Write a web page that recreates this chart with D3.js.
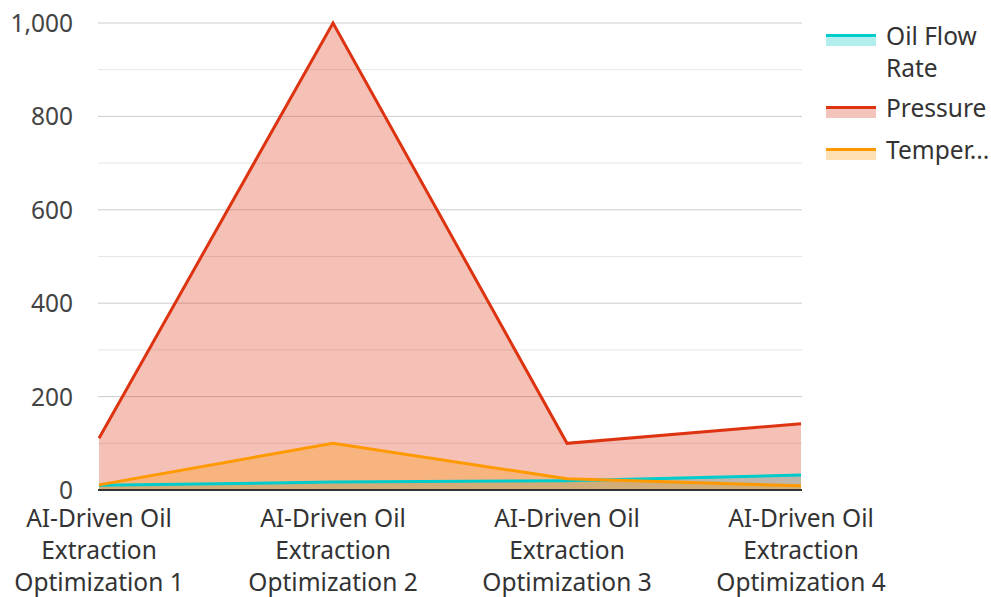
<!DOCTYPE html>
<html><head><meta charset="utf-8">
<script src="https://cdn.jsdelivr.net/npm/d3@7"></script>
<style>body{margin:0;background:#fff}svg{display:block}</style>
</head><body>
<svg id="c" width="991" height="597"></svg>
<script>
const categories = ["AI-Driven Oil Extraction Optimization 1","AI-Driven Oil Extraction Optimization 2","AI-Driven Oil Extraction Optimization 3","AI-Driven Oil Extraction Optimization 4"];
const categoryLines = [["AI-Driven Oil","Extraction","Optimization 1"],["AI-Driven Oil","Extraction","Optimization 2"],["AI-Driven Oil","Extraction","Optimization 3"],["AI-Driven Oil","Extraction","Optimization 4"]];
const oilFlowRate = [10, 17, 20, 32];
const pressure = [111, 1000, 100, 142];
const temperature = [11, 100, 24, 9];
const seriesNames = ["Oil Flow Rate","Pressure","Temperature"];
const seriesColors = ["#00CCCC","#DD3311","#FF9900"];
const seriesFills = ["#B2EEEE","#F2C4BB","#FFE0B2"];
const yTicks = [0,200,400,600,800,1000];
const yMinor = [100,300,500,700,900];

const svg = d3.select("#c");
const font = "'Noto Sans', 'Open Sans', sans-serif";
const fs = 24.5;
const x = d3.scalePoint().domain(categories).range([99, 801]);
const y = d3.scaleLinear().domain([0,1000]).range([490, 23]);

// grid
svg.append("g").selectAll("line").data(yMinor).join("line")
  .attr("x1",98).attr("x2",802).attr("y1",d=>y(d)).attr("y2",d=>y(d))
  .attr("stroke","#e6e6e6").attr("stroke-width",1);
svg.append("g").selectAll("line").data(yTicks.filter(d=>d>0)).join("line")
  .attr("x1",98).attr("x2",802).attr("y1",d=>y(d)).attr("y2",d=>y(d))
  .attr("stroke","#cccccc").attr("stroke-width",1);

const all = [oilFlowRate, pressure, temperature];
const area = d3.area().x((d,i)=>x(categories[i])).y0(y(0)).y1(d=>y(d));
const line = d3.line().x((d,i)=>x(categories[i])).y(d=>y(d));
all.forEach((s,k)=>{
  svg.append("path").attr("d",area(s)).attr("fill",seriesColors[k]).attr("fill-opacity",0.3);
});
all.forEach((s,k)=>{
  svg.append("path").attr("d",line(s)).attr("fill","none").attr("stroke",seriesColors[k]).attr("stroke-width",3).attr("stroke-linejoin","miter");
});

// baseline
svg.append("line").attr("x1",98).attr("x2",802).attr("y1",y(0)).attr("y2",y(0)).attr("stroke","#333").attr("stroke-width",2);

// y axis labels
const yAxis = d3.axisLeft(y).tickValues(yTicks).tickFormat(d3.format(",")).tickSize(0).tickPadding(0);
const ya = svg.append("g").attr("transform","translate(73,0)").call(yAxis);
ya.select(".domain").remove();
ya.selectAll("text").attr("font-family",font).attr("font-size",fs).attr("fill","#444").attr("dy","0.35em");

// x labels
const xl = svg.append("g");
categories.forEach((c,i)=>{
  const t = xl.append("text").attr("x",x(c)).attr("y",527).attr("text-anchor","middle")
    .attr("font-family",font).attr("font-size",fs).attr("fill","#333");
  categoryLines[i].forEach((ln,j)=>t.append("tspan").attr("x",x(c)).attr("dy",j?32:0).text(ln));
});

// legend
const legendLabels = [["Oil Flow","Rate"],["Pressure"],["Temper..."]];
const legendY = [36,108,150];
legendLabels.forEach((lab,k)=>{
  const g = svg.append("g");
  g.append("rect").attr("x",826).attr("y",legendY[k]-2).attr("width",50).attr("height",12).attr("fill",seriesFills[k]);
  g.append("rect").attr("x",826).attr("y",legendY[k]-2).attr("width",50).attr("height",3).attr("fill",seriesColors[k]);
  const t = g.append("text").attr("x",886).attr("y",legendY[k])
    .attr("font-family",font).attr("font-size",fs).attr("fill","#333");
  lab.forEach((ln,j)=>t.append("tspan").attr("x",886).attr("dy",j?32:"0.35em").text(ln));
});
</script>
</body></html>
